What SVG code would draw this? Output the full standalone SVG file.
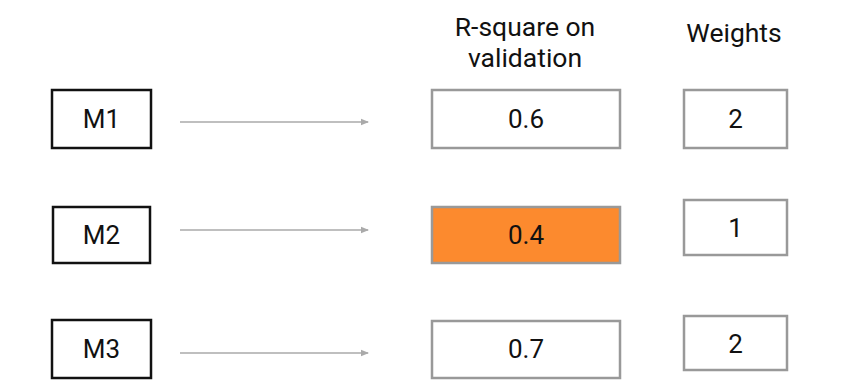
<svg xmlns="http://www.w3.org/2000/svg" width="850" height="388" viewBox="0 0 850 388">
<defs>
<style>
text{font-family:Roboto,"Liberation Sans",sans-serif;fill:#111;text-anchor:middle}
.hdr{font-size:26.5px}
.val{font-size:26px}
.m{fill:#fff;stroke:#111;stroke-width:2.5}
.g{fill:#fff;stroke:#999;stroke-width:2.5}
.o{fill:#FC8A2E;stroke:#999;stroke-width:2.5}
.c{stroke:#aaa;stroke-width:1.5;fill:none;marker-end:url(#ah)}
</style>
<marker id="ah" markerWidth="8" markerHeight="8" refX="7" refY="4" orient="auto" markerUnits="userSpaceOnUse">
<path d="M0,0.8 L8,4 L0,7.2 Z" fill="#aaa"/>
</marker>
</defs>
<rect width="850" height="388" fill="#fff"/>
<g id="headers">
<text class="hdr" x="525" y="36">R-square on</text>
<text class="hdr" x="525" y="67">validation</text>
<text class="hdr" x="734" y="42">Weights</text>
</g>
<g id="connectors">
<line class="c" x1="180" y1="122" x2="368" y2="122"/>
<line class="c" x1="180" y1="230" x2="368" y2="230"/>
<line class="c" x1="180" y1="353" x2="368" y2="353"/>
</g>
<g id="M1"><rect class="m" x="52" y="90" width="99" height="58"/><text class="val" x="101.5" y="128">M1</text></g>
<g id="M2"><rect class="m" x="53" y="207" width="97" height="56"/><text class="val" x="101.5" y="244">M2</text></g>
<g id="M3"><rect class="m" x="52" y="320" width="99" height="58"/><text class="val" x="101.5" y="358">M3</text></g>
<g id="R1"><rect class="g" x="432" y="90" width="188" height="58"/><text class="val" x="526" y="128">0.6</text></g>
<g id="R2"><rect class="o" x="432" y="207" width="188" height="56"/><text class="val" x="526" y="244">0.4</text></g>
<g id="R3"><rect class="g" x="432" y="321" width="188" height="57"/><text class="val" x="526" y="358">0.7</text></g>
<g id="W1"><rect class="g" x="684" y="90" width="103" height="58"/><text class="val" x="735.5" y="128">2</text></g>
<g id="W2"><rect class="g" x="684" y="200" width="103" height="55"/><text class="val" x="735.5" y="237">1</text></g>
<g id="W3"><rect class="g" x="684" y="316" width="103" height="54"/><text class="val" x="735.5" y="353">2</text></g>
</svg>
